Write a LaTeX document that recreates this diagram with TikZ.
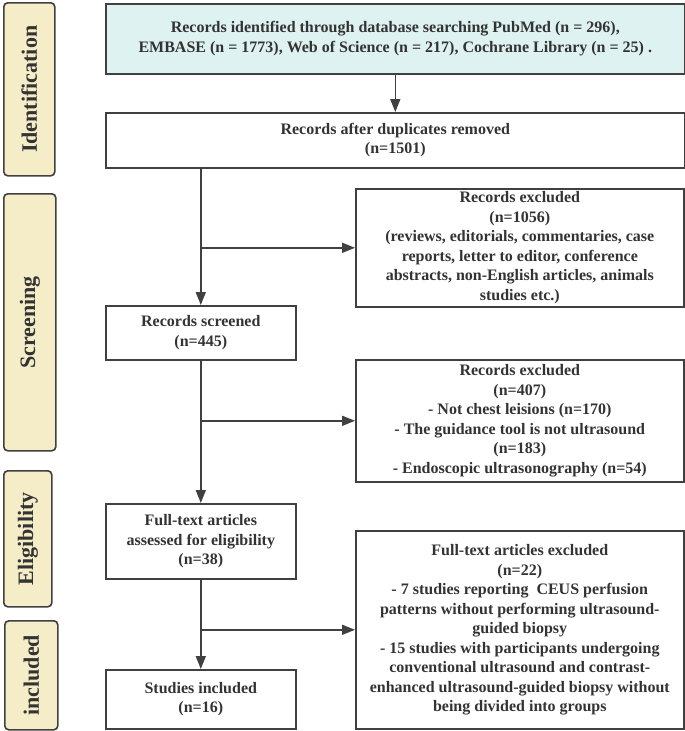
\documentclass[tikz,border=0pt]{standalone}
\usepackage{fontspec}
\setmainfont{Liberation Serif}
\usetikzlibrary{arrows.meta}
\definecolor{linec}{HTML}{404040}
\definecolor{textc}{HTML}{333333}
\definecolor{labfill}{HTML}{F5EDC8}
\definecolor{topfill}{HTML}{DDF2F1}
\tikzset{
  box/.style={draw=linec, line width=1.6pt, anchor=north west, inner sep=0pt,
    align=center, text=textc, font=\fontsize{16}{19.5}\selectfont\bfseries},
  side/.style={draw=linec, line width=1.6pt, fill=labfill, rounded corners=4pt,
    anchor=north west, inner sep=0pt},
  sidetext/.style={rotate=90, text=textc, font=\fontsize{22}{24}\selectfont\bfseries},
  arr/.style={draw=linec, line width=1.6pt, -{Triangle[length=13pt,width=10pt]}},
  ln/.style={draw=linec, line width=1.6pt}
}
\begin{document}
\begin{tikzpicture}[x=1pt,y=-1pt]
\useasboundingbox (0,0) rectangle (685,731);
% side labels
\node[side, minimum width=51pt, minimum height=173pt] (sid) at (3,2) {};
\node[sidetext] (tid) at (sid.center) {Identification};
\node[side, minimum width=52pt, minimum height=257pt] (ssc) at (3,193) {};
\node[sidetext] (tsc) at (ssc.center) {Screening};
\node[side, minimum width=48pt, minimum height=136pt] (sel) at (3,470) {};
\node[sidetext] (tel) at (sel.center) {Eligibility};
\node[side, minimum width=53pt, minimum height=109pt] (sin) at (4,620) {};
\node[sidetext] (tin) at (sin.center) {included};
% main boxes
\node[box, fill=topfill, minimum width=579pt, minimum height=70pt] (top) at (105,3)
  {Records identified through database searching PubMed (n = 296),\\
   EMBASE (n = 1773), Web of Science (n = 217), Cochrane Library (n = 25) .};
\node[box, minimum width=579pt, minimum height=55pt] (dup) at (105,112)
  {Records after duplicates removed\\(n=1501)};
\node[box, minimum width=328pt, minimum height=118pt] (ex1) at (355,188)
  {Records excluded\\(n=1056)\\(reviews, editorials, commentaries, case\\
   reports, letter to editor, conference\\abstracts, non-English articles, animals\\studies etc.)};
\node[box, minimum width=190pt, minimum height=54pt] (scr) at (105,305)
  {Records screened\\(n=445)};
\node[box, minimum width=328pt, minimum height=122pt] (ex2) at (355,359)
  {Records excluded\\(n=407)\\- Not chest leisions (n=170)\\- The guidance tool is not ultrasound\\(n=183)\\- Endoscopic ultrasonography (n=54)};
\node[box, minimum width=190pt, minimum height=75pt] (ful) at (105,503)
  {Full-text articles\\assessed for eligibility\\(n=38)};
\node[box, minimum width=328pt, minimum height=198pt] (ex3) at (355,530)
  {Full-text articles excluded\\(n=22)\\- 7 studies reporting\ \ CEUS perfusion\\
   patterns without performing ultrasound-\\guided biopsy\\
   - 15 studies with participants undergoing\\conventional ultrasound and contrast-\\
   enhanced ultrasound-guided biopsy without\\being divided into groups};
\node[box, minimum width=190pt, minimum height=59pt] (stu) at (105,669)
  {Studies included\\(n=16)};
% connectors
\draw[arr] (top.south) -- (dup.north);
\draw[arr] (scr.north |- dup.south) -- (scr.north);
\draw[arr] (scr.north |- ex1.west) -- (ex1.west);
\draw[arr] (scr.south) -- (ful.north);
\draw[arr] (scr.south |- ex2.west) -- (ex2.west);
\draw[arr] (ful.south) -- (stu.north);
\draw[arr] (ful.south |- ex3.west) -- (ex3.west);
\end{tikzpicture}
\end{document}
